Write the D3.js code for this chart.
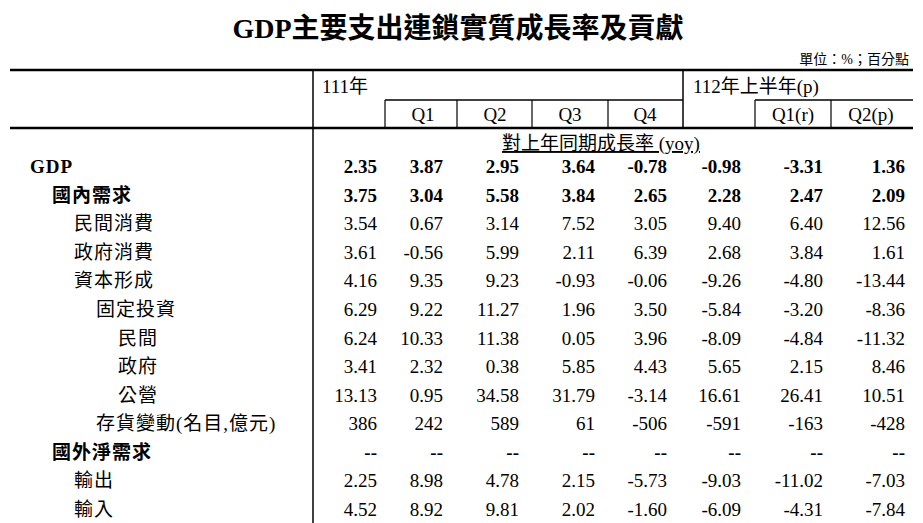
<!DOCTYPE html>
<html><head><meta charset="utf-8">
<script src="https://cdn.jsdelivr.net/npm/d3@7"></script>
<style>body{margin:0;background:#fff}text{font-family:'Liberation Serif','Noto Sans CJK TC',serif;fill:#000}</style>
</head><body><svg id="t" width="923" height="523"></svg>
<script>
// table contents
let columns = ['111年', 'Q1', 'Q2', 'Q3', 'Q4', '112年上半年(p)', 'Q1(r)', 'Q2(p)']
let rowLabels = ['GDP', '國內需求', '民間消費', '政府消費', '資本形成', '固定投資', '民間', '政府', '公營', '存貨變動(名目,億元)', '國外淨需求', '輸出', '輸入']
let indent = [0, 1, 2, 2, 2, 3, 4, 4, 4, 3, 1, 2, 2]
let boldRows = ['GDP', '國內需求', '國外淨需求']
let values = [
  ['2.35', '3.87', '2.95', '3.64', '-0.78', '-0.98', '-3.31', '1.36'],
  ['3.75', '3.04', '5.58', '3.84', '2.65', '2.28', '2.47', '2.09'],
  ['3.54', '0.67', '3.14', '7.52', '3.05', '9.40', '6.40', '12.56'],
  ['3.61', '-0.56', '5.99', '2.11', '6.39', '2.68', '3.84', '1.61'],
  ['4.16', '9.35', '9.23', '-0.93', '-0.06', '-9.26', '-4.80', '-13.44'],
  ['6.29', '9.22', '11.27', '1.96', '3.50', '-5.84', '-3.20', '-8.36'],
  ['6.24', '10.33', '11.38', '0.05', '3.96', '-8.09', '-4.84', '-11.32'],
  ['3.41', '2.32', '0.38', '5.85', '4.43', '5.65', '2.15', '8.46'],
  ['13.13', '0.95', '34.58', '31.79', '-3.14', '16.61', '26.41', '10.51'],
  ['386', '242', '589', '61', '-506', '-591', '-163', '-428'],
  ['--', '--', '--', '--', '--', '--', '--', '--'],
  ['2.25', '8.98', '4.78', '2.15', '-5.73', '-9.03', '-11.02', '-7.03'],
  ['4.52', '8.92', '9.81', '2.02', '-1.60', '-6.09', '-4.31', '-7.84']
]

let svg = d3.select('#t')
let colRight = [377, 443, 519, 595, 667, 741, 823, 905]
let x = d3.scalePoint().domain(d3.range(8)).range([0, 7])
let y = d3.scaleLinear().domain([0, rowLabels.length - 1]).range([166, 509])
let indentScale = d3.scaleLinear().domain([0, 1]).range([30, 52])

svg.append('text').attr('x', 458).attr('y', 38).attr('text-anchor', 'middle')
  .attr('font-size', 28).attr('font-weight', 'bold').text('GDP主要支出連鎖實質成長率及貢獻')
svg.append('text').attr('x', 909).attr('y', 64).attr('text-anchor', 'end')
  .attr('font-size', 14).text('單位：%；百分點')

function line(x1, y1, x2, y2, w) {
  svg.append('line').attr('x1', x1).attr('y1', y1).attr('x2', x2).attr('y2', y2)
    .attr('stroke', '#000').attr('stroke-width', w)
}
line(10, 70, 913, 70, 2.5)
line(10, 128, 913, 128, 2.5)
line(313, 70, 313, 523, 1.5)
line(683, 70, 683, 128, 1.5)
line(385, 100, 683, 100, 1.5)
line(755, 100, 913, 100, 1.5)
;[385, 457, 532, 608, 755, 831].forEach(v => line(v, 100, v, 128, 1.2))

// headers
let hdr = [[322, 93, columns[0], 'start'], [423, 121, 'Q1', 'middle'], [495, 121, 'Q2', 'middle'],
  [570, 121, 'Q3', 'middle'], [645, 121, 'Q4', 'middle'], [693, 93, columns[5], 'start'],
  [793, 121, 'Q1(r)', 'middle'], [871, 121, 'Q2(p)', 'middle']]
hdr.forEach(h => svg.append('text').attr('x', h[0]).attr('y', h[1]).attr('text-anchor', h[3])
  .attr('font-size', 19).text(h[2]))
svg.append('text').attr('x', 601).attr('y', 150).attr('text-anchor', 'middle').attr('font-size', 19)
  .attr('text-decoration', 'underline').text('對上年同期成長率 (yoy)')

let rows = svg.selectAll('g.row').data(rowLabels).join('g').attr('class', 'row')
  .attr('transform', (d, i) => `translate(0,${y(i) + 7})`)
  .attr('font-weight', d => boldRows.includes(d) ? 'bold' : 'normal')
rows.append('text').attr('x', (d, i) => indentScale(indent[i])).attr('font-size', 19)
  .attr('letter-spacing', 1).text(d => d)
rows.selectAll('text.v').data((d, i) => values[i]).join('text').attr('class', 'v')
  .attr('x', (d, j) => colRight[x(j)]).attr('text-anchor', 'end').attr('font-size', 19).text(d => d)
</script></body></html>
